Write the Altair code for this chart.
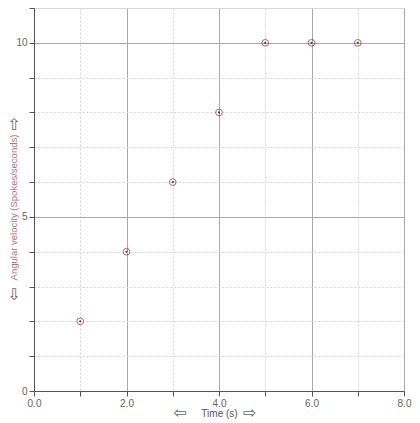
import altair as alt
import pandas as pd

time_s = [1, 2, 3, 4, 5, 6, 7]
angular_velocity = [2, 4, 6, 8, 10, 10, 10]
x_major = [0, 2, 4, 6, 8]
x_minor = [0, 1, 2, 3, 4, 5, 6, 7, 8]
y_major = [0, 5, 10]
y_minor = [0, 1, 2, 3, 4, 5, 6, 7, 8, 9, 10, 11]

df = pd.DataFrame({"t": time_s, "w": angular_velocity})

xs = alt.Scale(domain=[0, 8], nice=False)
ys = alt.Scale(domain=[0, 11], nice=False)

base = alt.Chart(df)

pts = base.mark_point(shape="circle", size=45, filled=False, color="#8b2a2a",
                      strokeWidth=1).encode(
    x=alt.X("t:Q", scale=xs,
            axis=alt.Axis(values=x_minor, labelExpr="datum.value % 2 == 0 ? format(datum.value, '.1f') : ''",
                          title="Time (s)", titleColor="#555555",
                          titleFont="Liberation Sans", titleFontSize=10, titleFontWeight="normal",
                          titlePadding=0,
                          labelFont="Liberation Sans", labelFontSize=10, labelColor="#666666",
                          labelPadding=2,
                          grid=True, gridDash=[2, 2], gridColor="#d4d4d4",
                          domainColor="#555555", tickColor="#555555", tickSize=5, labelFlush=False)),
    y=alt.Y("w:Q", scale=ys,
            axis=alt.Axis(values=y_minor, labelExpr="datum.value % 5 == 0 ? datum.value : ''",
                          title="Angular velocity (Spokes/seconds)",
                          titleColor="#b0707c", titleFont="Liberation Sans", titleFontSize=9.5,
                          titleFontWeight="normal", titleX=-21, titleY=199, titleBaseline="middle",
                          labelFont="Liberation Sans", labelFontSize=10, labelColor="#666666",
                          labelPadding=2,
                          grid=True, gridDash=[2, 2], gridColor="#d4d4d4",
                          domainColor="#555555", tickColor="#555555", tickSize=5)),
)

dots = base.mark_point(shape="circle", size=5, filled=True, color="#8b2a2a", opacity=1).encode(
    x=alt.X("t:Q", scale=xs, axis=None),
    y=alt.Y("w:Q", scale=ys, axis=None),
)

major = base.mark_point(opacity=0).encode(
    x=alt.X("t:Q", scale=xs,
            axis=alt.Axis(orient="top", values=x_major, labels=False, ticks=False, domain=False,
                          title=None, grid=True, gridColor="#a8a8a8", gridWidth=1)),
    y=alt.Y("w:Q", scale=ys,
            axis=alt.Axis(orient="right", values=y_major, labels=False, ticks=False, domain=False,
                          title=None, grid=True, gridColor="#a8a8a8", gridWidth=1)),
)

arrow_style = dict(font="DejaVu Sans", fontSize=16, color="#666666", align="center", baseline="middle")
arrows = [
    alt.Chart().mark_text(text="⇦", **arrow_style).encode(x=alt.value(146), y=alt.value(405)),
    alt.Chart().mark_text(text="⇨", **arrow_style).encode(x=alt.value(216), y=alt.value(405)),
    alt.Chart().mark_text(text="⇧", **arrow_style).encode(x=alt.value(-20), y=alt.value(117)),
    alt.Chart().mark_text(text="⇩", **arrow_style).encode(x=alt.value(-20), y=alt.value(287)),
]

chart = alt.layer(pts, major, dots, *arrows).resolve_axis(x="independent", y="independent").properties(
    width=370, height=383,
    autosize=alt.AutoSizeParams(type="none"),
    padding={"left": 26, "top": 0, "right": 8, "bottom": 32},
).configure_view(stroke=None).configure(background="white")

chart.save("out.html", embed_options={"renderer": "svg", "actions": False})
